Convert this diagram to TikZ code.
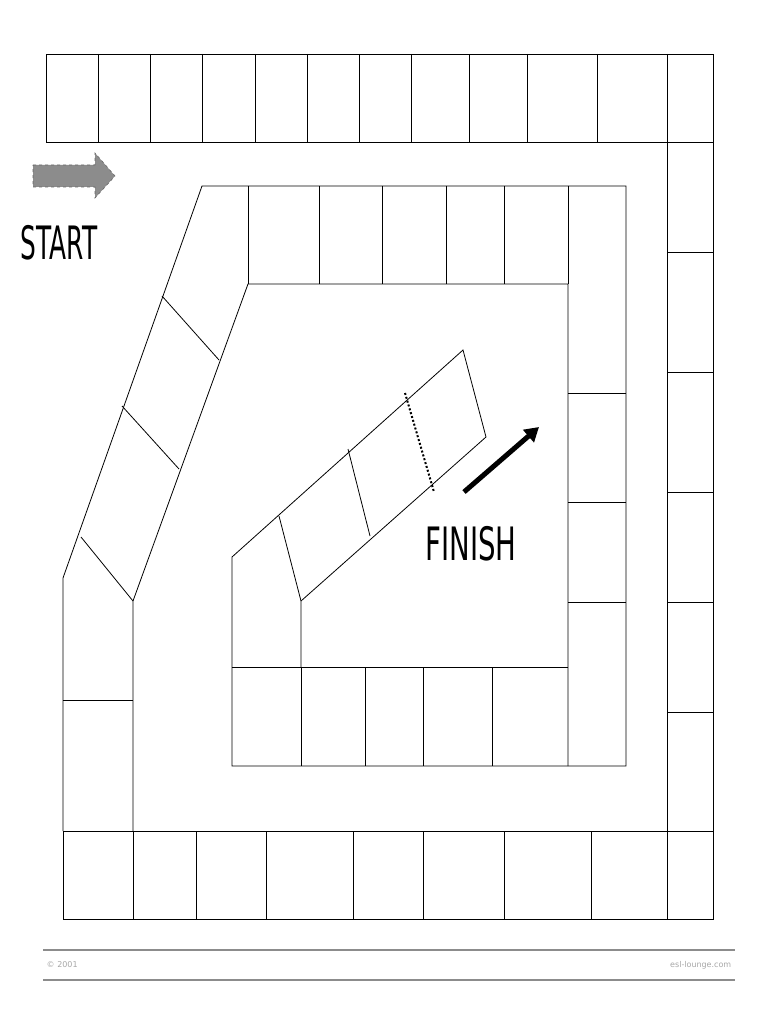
\documentclass[tikz,border=0pt]{standalone}
\usepackage{fontspec}
\setmainfont{DejaVu Sans}
\usetikzlibrary{arrows.meta}
\begin{document}
\begin{tikzpicture}[x=1pt,y=-1pt,line width=0.8pt,
  cell/.style={draw=black,line join=miter},
  big/.style={font=\fontsize{46}{46}\selectfont,xscale=0.6,inner sep=0pt},
  foot/.style={font=\fontsize{8}{8}\selectfont,text=black!35}]
\useasboundingbox (0,0) rectangle (768,1024);
% top row
\draw[cell] (46,54) rectangle (713,142);
\foreach \x in {98,150,202,255,307,359,411,469,527,597,667} \draw[cell] (\x,54) -- (\x,142);
% right column
\draw[cell] (667,142) -- (667,831) (713,142) -- (713,831);
\foreach \y in {252,372,492,602,712} \draw[cell] (667,\y) -- (713,\y);
% bottom row
\draw[cell] (63,831) rectangle (713,919);
\foreach \x in {133,196,266,353,423,504,591,667} \draw[cell] (\x,831) -- (\x,919);
% spiral track
\draw[cell] (63,831) -- (63,578) -- (202,186) -- (626,186) -- (626,766) -- (232,766) -- (232,557) -- (463,350) -- (486,437) -- (301,601) -- (301,667);
\draw[cell] (133,831) -- (133,601) -- (248,284) -- (568,284) -- (568,766);
\draw[cell] (568,667) -- (232,667);
\draw[cell] (63,700) -- (133,700);
\draw[cell] (81,537) -- (133,601) (122,406) -- (179,469) (162,296) -- (219,360);
\foreach \x in {248,319,382,446,504,568} \draw[cell] (\x,186) -- (\x,284);
\foreach \y in {393,502,602} \draw[cell] (568,\y) -- (626,\y);
\foreach \x in {301,365,423,492} \draw[cell] (\x,667) -- (\x,766);
\draw[cell] (279,516) -- (301,601) (348,449) -- (370,536);
\draw[line width=2pt,dash pattern=on 2pt off 2pt] (405,393) -- (434,492);
% start arrow
\draw[draw=black!60,dashed,fill=black!45,line width=0.6pt] (33,165) -- (95,165) -- (95,153) -- (115,176) -- (95,198) -- (95,187) -- (33,187) -- cycle;
\node[big,xscale=0.9] (start) at (59,243) {START};
\node[big] (finish) at (471,544) {FINISH};
\coordinate (fa) at (464,492);
\coordinate (fb) at (539,427);
\draw[line width=5pt,-{Triangle[length=14pt,width=16pt]}] (fa) -- (fb);
% footer
\draw[black!45,line width=1.2pt] (43,950) -- (735,950) (43,980) -- (735,980);
\node[foot,anchor=west] (c) at (43,965) {© 2001};
\node[foot,anchor=east] (w) at (735,965) {esl-lounge.com};
\end{tikzpicture}
\end{document}
